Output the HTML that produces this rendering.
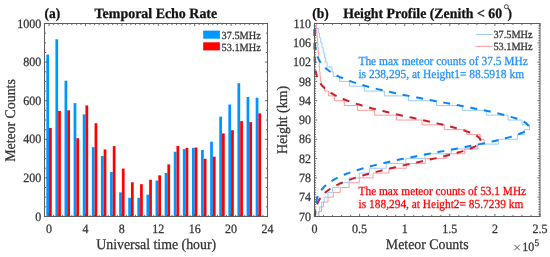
<!DOCTYPE html><html><head><meta charset="utf-8"><style>html,body{margin:0;padding:0;background:#fff;overflow:hidden;}svg{display:block;filter:blur(0.22px);} text{text-rendering:geometricPrecision;}</style></head><body>
<svg width="550" height="257" viewBox="0 0 550 257" font-family="Liberation Serif, serif">
<rect width="550" height="257" fill="#fff"/>
<rect x="46.32" y="54.60" width="2.73" height="161.90" fill="#0096ff"/>
<rect x="49.05" y="127.90" width="2.73" height="88.60" fill="#ff0000"/>
<rect x="55.42" y="39.30" width="2.73" height="177.20" fill="#0096ff"/>
<rect x="58.15" y="110.90" width="2.73" height="105.60" fill="#ff0000"/>
<rect x="64.53" y="80.70" width="2.73" height="135.80" fill="#0096ff"/>
<rect x="67.26" y="110.30" width="2.73" height="106.20" fill="#ff0000"/>
<rect x="73.63" y="103.10" width="2.73" height="113.40" fill="#0096ff"/>
<rect x="76.36" y="138.20" width="2.73" height="78.30" fill="#ff0000"/>
<rect x="82.73" y="114.40" width="2.73" height="102.10" fill="#0096ff"/>
<rect x="85.46" y="105.40" width="2.73" height="111.10" fill="#ff0000"/>
<rect x="91.83" y="147.10" width="2.73" height="69.40" fill="#0096ff"/>
<rect x="94.56" y="123.20" width="2.73" height="93.30" fill="#ff0000"/>
<rect x="100.93" y="156.00" width="2.73" height="60.50" fill="#0096ff"/>
<rect x="103.66" y="149.40" width="2.73" height="67.10" fill="#ff0000"/>
<rect x="110.04" y="172.00" width="2.73" height="44.50" fill="#0096ff"/>
<rect x="112.77" y="146.10" width="2.73" height="70.40" fill="#ff0000"/>
<rect x="119.14" y="192.40" width="2.73" height="24.10" fill="#0096ff"/>
<rect x="121.87" y="168.60" width="2.73" height="47.90" fill="#ff0000"/>
<rect x="128.24" y="197.80" width="2.73" height="18.70" fill="#0096ff"/>
<rect x="130.97" y="182.30" width="2.73" height="34.20" fill="#ff0000"/>
<rect x="137.34" y="197.80" width="2.73" height="18.70" fill="#0096ff"/>
<rect x="140.07" y="184.20" width="2.73" height="32.30" fill="#ff0000"/>
<rect x="146.44" y="194.70" width="2.73" height="21.80" fill="#0096ff"/>
<rect x="149.17" y="179.80" width="2.73" height="36.70" fill="#ff0000"/>
<rect x="155.55" y="180.50" width="2.73" height="36.00" fill="#0096ff"/>
<rect x="158.28" y="175.30" width="2.73" height="41.20" fill="#ff0000"/>
<rect x="164.65" y="173.00" width="2.73" height="43.50" fill="#0096ff"/>
<rect x="167.38" y="164.40" width="2.73" height="52.10" fill="#ff0000"/>
<rect x="173.75" y="151.80" width="2.73" height="64.70" fill="#0096ff"/>
<rect x="176.48" y="146.00" width="2.73" height="70.50" fill="#ff0000"/>
<rect x="182.85" y="149.10" width="2.73" height="67.40" fill="#0096ff"/>
<rect x="185.58" y="147.90" width="2.73" height="68.60" fill="#ff0000"/>
<rect x="191.95" y="147.90" width="2.73" height="68.60" fill="#0096ff"/>
<rect x="194.68" y="147.50" width="2.73" height="69.00" fill="#ff0000"/>
<rect x="201.06" y="150.00" width="2.73" height="66.50" fill="#0096ff"/>
<rect x="203.79" y="158.80" width="2.73" height="57.70" fill="#ff0000"/>
<rect x="210.16" y="141.70" width="2.73" height="74.80" fill="#0096ff"/>
<rect x="212.89" y="156.70" width="2.73" height="59.80" fill="#ff0000"/>
<rect x="219.26" y="116.60" width="2.73" height="99.90" fill="#0096ff"/>
<rect x="221.99" y="133.40" width="2.73" height="83.10" fill="#ff0000"/>
<rect x="228.36" y="104.50" width="2.73" height="112.00" fill="#0096ff"/>
<rect x="231.09" y="130.20" width="2.73" height="86.30" fill="#ff0000"/>
<rect x="237.46" y="83.20" width="2.73" height="133.30" fill="#0096ff"/>
<rect x="240.19" y="121.10" width="2.73" height="95.40" fill="#ff0000"/>
<rect x="246.57" y="97.00" width="2.73" height="119.50" fill="#0096ff"/>
<rect x="249.30" y="122.10" width="2.73" height="94.40" fill="#ff0000"/>
<rect x="255.67" y="97.70" width="2.73" height="118.80" fill="#0096ff"/>
<rect x="258.40" y="113.40" width="2.73" height="103.10" fill="#ff0000"/>
<path d="M49.05 216.5v-2.6M49.05 23.5v2.6M53.60 216.5v-1.6M53.60 23.5v1.6M58.15 216.5v-1.6M58.15 23.5v1.6M62.70 216.5v-1.6M62.70 23.5v1.6M67.26 216.5v-1.6M67.26 23.5v1.6M71.81 216.5v-1.6M71.81 23.5v1.6M76.36 216.5v-1.6M76.36 23.5v1.6M80.91 216.5v-1.6M80.91 23.5v1.6M85.46 216.5v-2.6M85.46 23.5v2.6M90.01 216.5v-1.6M90.01 23.5v1.6M94.56 216.5v-1.6M94.56 23.5v1.6M99.11 216.5v-1.6M99.11 23.5v1.6M103.66 216.5v-1.6M103.66 23.5v1.6M108.21 216.5v-1.6M108.21 23.5v1.6M112.77 216.5v-1.6M112.77 23.5v1.6M117.32 216.5v-1.6M117.32 23.5v1.6M121.87 216.5v-2.6M121.87 23.5v2.6M126.42 216.5v-1.6M126.42 23.5v1.6M130.97 216.5v-1.6M130.97 23.5v1.6M135.52 216.5v-1.6M135.52 23.5v1.6M140.07 216.5v-1.6M140.07 23.5v1.6M144.62 216.5v-1.6M144.62 23.5v1.6M149.17 216.5v-1.6M149.17 23.5v1.6M153.72 216.5v-1.6M153.72 23.5v1.6M158.28 216.5v-2.6M158.28 23.5v2.6M162.83 216.5v-1.6M162.83 23.5v1.6M167.38 216.5v-1.6M167.38 23.5v1.6M171.93 216.5v-1.6M171.93 23.5v1.6M176.48 216.5v-1.6M176.48 23.5v1.6M181.03 216.5v-1.6M181.03 23.5v1.6M185.58 216.5v-1.6M185.58 23.5v1.6M190.13 216.5v-1.6M190.13 23.5v1.6M194.68 216.5v-2.6M194.68 23.5v2.6M199.23 216.5v-1.6M199.23 23.5v1.6M203.79 216.5v-1.6M203.79 23.5v1.6M208.34 216.5v-1.6M208.34 23.5v1.6M212.89 216.5v-1.6M212.89 23.5v1.6M217.44 216.5v-1.6M217.44 23.5v1.6M221.99 216.5v-1.6M221.99 23.5v1.6M226.54 216.5v-1.6M226.54 23.5v1.6M231.09 216.5v-2.6M231.09 23.5v2.6M235.64 216.5v-1.6M235.64 23.5v1.6M240.19 216.5v-1.6M240.19 23.5v1.6M244.74 216.5v-1.6M244.74 23.5v1.6M249.30 216.5v-1.6M249.30 23.5v1.6M253.85 216.5v-1.6M253.85 23.5v1.6M258.40 216.5v-1.6M258.40 23.5v1.6M262.95 216.5v-1.6M262.95 23.5v1.6M267.50 216.5v-2.6M267.50 23.5v2.6M44.5 216.50h2.6M267.5 216.50h-2.6M44.5 206.85h1.6M267.5 206.85h-1.6M44.5 197.20h1.6M267.5 197.20h-1.6M44.5 187.55h1.6M267.5 187.55h-1.6M44.5 177.90h2.6M267.5 177.90h-2.6M44.5 168.25h1.6M267.5 168.25h-1.6M44.5 158.60h1.6M267.5 158.60h-1.6M44.5 148.95h1.6M267.5 148.95h-1.6M44.5 139.30h2.6M267.5 139.30h-2.6M44.5 129.65h1.6M267.5 129.65h-1.6M44.5 120.00h1.6M267.5 120.00h-1.6M44.5 110.35h1.6M267.5 110.35h-1.6M44.5 100.70h2.6M267.5 100.70h-2.6M44.5 91.05h1.6M267.5 91.05h-1.6M44.5 81.40h1.6M267.5 81.40h-1.6M44.5 71.75h1.6M267.5 71.75h-1.6M44.5 62.10h2.6M267.5 62.10h-2.6M44.5 52.45h1.6M267.5 52.45h-1.6M44.5 42.80h1.6M267.5 42.80h-1.6M44.5 33.15h1.6M267.5 33.15h-1.6M44.5 23.50h2.6M267.5 23.50h-2.6" stroke="#444" stroke-width="0.8" fill="none"/>
<rect x="44.5" y="23.5" width="223.0" height="193.0" fill="none" stroke="#5c5c5c" stroke-width="1"/>
<text transform="matrix(1 0 0 1.06 0 -13.236)" x="41.2" y="220.60" font-size="12" text-anchor="end" fill="#333" stroke="#333" stroke-width="0.25">0</text>
<text transform="matrix(1 0 0 1.06 0 -10.920)" x="41.2" y="182.00" font-size="12" text-anchor="end" fill="#333" stroke="#333" stroke-width="0.25">200</text>
<text transform="matrix(1 0 0 1.06 0 -8.604)" x="41.2" y="143.40" font-size="12" text-anchor="end" fill="#333" stroke="#333" stroke-width="0.25">400</text>
<text transform="matrix(1 0 0 1.06 0 -6.288)" x="41.2" y="104.80" font-size="12" text-anchor="end" fill="#333" stroke="#333" stroke-width="0.25">600</text>
<text transform="matrix(1 0 0 1.06 0 -3.972)" x="41.2" y="66.20" font-size="12" text-anchor="end" fill="#333" stroke="#333" stroke-width="0.25">800</text>
<text transform="matrix(1 0 0 1.06 0 -1.656)" x="41.2" y="27.60" font-size="12" text-anchor="end" fill="#333" stroke="#333" stroke-width="0.25">1000</text>
<text transform="matrix(1 0 0 1.06 0 -13.986)" x="49.05" y="233.1" font-size="12" text-anchor="middle" fill="#333" stroke="#333" stroke-width="0.25">0</text>
<text transform="matrix(1 0 0 1.06 0 -13.986)" x="85.46" y="233.1" font-size="12" text-anchor="middle" fill="#333" stroke="#333" stroke-width="0.25">4</text>
<text transform="matrix(1 0 0 1.06 0 -13.986)" x="121.87" y="233.1" font-size="12" text-anchor="middle" fill="#333" stroke="#333" stroke-width="0.25">8</text>
<text transform="matrix(1 0 0 1.06 0 -13.986)" x="158.28" y="233.1" font-size="12" text-anchor="middle" fill="#333" stroke="#333" stroke-width="0.25">12</text>
<text transform="matrix(1 0 0 1.06 0 -13.986)" x="194.68" y="233.1" font-size="12" text-anchor="middle" fill="#333" stroke="#333" stroke-width="0.25">16</text>
<text transform="matrix(1 0 0 1.06 0 -13.986)" x="231.09" y="233.1" font-size="12" text-anchor="middle" fill="#333" stroke="#333" stroke-width="0.25">20</text>
<text transform="matrix(1 0 0 1.06 0 -13.986)" x="267.50" y="233.1" font-size="12" text-anchor="middle" fill="#333" stroke="#333" stroke-width="0.25">24</text>
<text transform="matrix(1 0 0 1.06 0 -14.916)" x="156.2" y="248.6" font-size="13.85" text-anchor="middle" fill="#333" stroke="#333" stroke-width="0.25">Universal time (hour)</text>
<text transform="translate(14.6 120.5) rotate(-90) scale(1 1.06)" font-size="13.85" text-anchor="middle" fill="#333" stroke="#333" stroke-width="0.25">Meteor Counts</text>
<text transform="matrix(1 0 0 1.06 0 -1.074)" x="44.6" y="17.9" font-size="13.5" font-weight="bold" fill="#111" stroke="#111" stroke-width="0.25">(a)</text>
<text transform="matrix(1 0 0 1.06 0 -1.074)" x="94.6" y="17.9" font-size="13.5" font-weight="bold" fill="#111" stroke="#111" stroke-width="0.25" textLength="122.6" lengthAdjust="spacingAndGlyphs">Temporal Echo Rate</text>
<rect x="203.2" y="30.6" width="16.7" height="8.1" fill="#0096ff"/>
<rect x="203.2" y="42.3" width="16.7" height="8.1" fill="#ff0000"/>
<text transform="matrix(1 0 0 1.06 0 -2.334)" x="221.6" y="38.9" font-size="10.3" fill="#333" stroke="#333" stroke-width="0.25">37.5MHz</text>
<text transform="matrix(1 0 0 1.06 0 -3.036)" x="221.6" y="50.6" font-size="10.3" fill="#333" stroke="#333" stroke-width="0.25">53.1MHz</text>
<path d="M315.80 23.50 L316.30 23.50 L316.30 28.32 L316.70 28.32 L316.70 33.15 L317.00 33.15 L317.00 37.98 L317.40 37.98 L317.40 42.80 L317.80 42.80 L317.80 47.62 L318.20 47.62 L318.20 52.45 L318.60 52.45 L318.60 57.27 L318.90 57.27 L318.90 62.10 L319.30 62.10 L319.30 66.92 L319.60 66.92 L319.60 71.75 L320.00 71.75 L320.00 76.58 L320.40 76.58 L320.40 81.40 L321.50 81.40 L321.50 86.22 L324.50 86.22 L324.50 91.05 L328.60 91.05 L328.60 95.88 L334.40 95.88 L334.40 100.70 L344.30 100.70 L344.30 105.53 L357.50 105.53 L357.50 110.35 L374.60 110.35 L374.60 115.17 L396.40 115.17 L396.40 120.00 L422.00 120.00 L422.00 124.83 L444.30 124.83 L444.30 129.65 L466.70 129.65 L466.70 134.47 L480.20 134.47 L480.20 139.30 L484.10 139.30 L484.10 144.12 L477.90 144.12 L477.90 148.95 L464.70 148.95 L464.70 153.78 L445.90 153.78 L445.90 158.60 L425.30 158.60 L425.30 163.43 L406.40 163.43 L406.40 168.25 L388.90 168.25 L388.90 173.07 L373.10 173.07 L373.10 177.90 L359.30 177.90 L359.30 182.72 L349.10 182.72 L349.10 187.55 L340.20 187.55 L340.20 192.38 L333.30 192.38 L333.30 197.20 L328.00 197.20 L328.00 202.03 L323.50 202.03 L323.50 206.85 L321.60 206.85 L321.60 211.68 L319.00 211.68 L319.00 216.50" stroke="#ff8080" stroke-width="0.8" fill="none"/>
<path d="M314.30 23.50 L314.30 23.50 L314.30 28.32 L318.40 28.32 L318.40 33.15 L319.60 33.15 L319.60 37.98 L320.80 37.98 L320.80 42.80 L322.00 42.80 L322.00 47.62 L323.20 47.62 L323.20 52.45 L324.40 52.45 L324.40 57.27 L325.60 57.27 L325.60 62.10 L327.00 62.10 L327.00 66.92 L332.00 66.92 L332.00 71.75 L333.30 71.75 L333.30 76.58 L339.50 76.58 L339.50 81.40 L349.50 81.40 L349.50 86.22 L364.30 86.22 L364.30 91.05 L384.40 91.05 L384.40 95.88 L408.50 95.88 L408.50 100.70 L436.60 100.70 L436.60 105.53 L462.40 105.53 L462.40 110.35 L486.30 110.35 L486.30 115.17 L508.00 115.17 L508.00 120.00 L522.00 120.00 L522.00 124.83 L529.50 124.83 L529.50 129.65 L524.40 129.65 L524.40 134.47 L517.40 134.47 L517.40 139.30 L498.70 139.30 L498.70 144.12 L477.10 144.12 L477.10 148.95 L451.20 148.95 L451.20 153.78 L425.00 153.78 L425.00 158.60 L405.80 158.60 L405.80 163.43 L386.30 163.43 L386.30 168.25 L369.60 168.25 L369.60 173.07 L359.30 173.07 L359.30 177.90 L349.10 177.90 L349.10 182.72 L338.90 182.72 L338.90 187.55 L332.50 187.55 L332.50 192.38 L328.00 192.38 L328.00 197.20 L324.20 197.20 L324.20 202.03 L321.60 202.03 L321.60 206.85 L319.70 206.85 L319.70 211.68 L318.20 211.68 L318.20 216.50" stroke="#80c0ff" stroke-width="0.8" fill="none"/>
<path d="M314.52 23.50 L314.52 23.74 L314.52 23.98 L314.53 24.22 L314.53 24.46 L314.53 24.71 L314.53 24.95 L314.53 25.19 L314.53 25.43 L314.53 25.67 L314.53 25.91 L314.54 26.15 L314.54 26.39 L314.54 26.64 L314.54 26.88 L314.54 27.12 L314.54 27.36 L314.55 27.60 L314.55 27.84 L314.55 28.08 L314.55 28.32 L314.55 28.57 L314.56 28.81 L314.56 29.05 L314.56 29.29 L314.56 29.53 L314.57 29.77 L314.57 30.01 L314.57 30.25 L314.57 30.50 L314.58 30.74 L314.58 30.98 L314.58 31.22 L314.59 31.46 L314.59 31.70 L314.59 31.94 L314.60 32.18 L314.60 32.43 L314.61 32.67 L314.61 32.91 L314.61 33.15 L314.62 33.39 L314.62 33.63 L314.63 33.87 L314.63 34.11 L314.64 34.36 L314.64 34.60 L314.65 34.84 L314.66 35.08 L314.66 35.32 L314.67 35.56 L314.67 35.80 L314.68 36.04 L314.69 36.29 L314.70 36.53 L314.70 36.77 L314.71 37.01 L314.72 37.25 L314.73 37.49 L314.73 37.73 L314.74 37.97 L314.75 38.22 L314.76 38.46 L314.77 38.70 L314.78 38.94 L314.79 39.18 L314.80 39.42 L314.81 39.66 L314.83 39.90 L314.84 40.15 L314.85 40.39 L314.86 40.63 L314.88 40.87 L314.89 41.11 L314.90 41.35 L314.92 41.59 L314.93 41.83 L314.95 42.08 L314.97 42.32 L314.98 42.56 L315.00 42.80 L315.02 43.04 L315.03 43.28 L315.05 43.52 L315.07 43.76 L315.09 44.01 L315.11 44.25 L315.14 44.49 L315.16 44.73 L315.18 44.97 L315.20 45.21 L315.23 45.45 L315.25 45.69 L315.28 45.94 L315.30 46.18 L315.33 46.42 L315.36 46.66 L315.39 46.90 L315.42 47.14 L315.45 47.38 L315.48 47.62 L315.51 47.87 L315.55 48.11 L315.58 48.35 L315.62 48.59 L315.65 48.83 L315.69 49.07 L315.73 49.31 L315.77 49.55 L315.81 49.80 L315.86 50.04 L315.90 50.28 L315.94 50.52 L315.99 50.76 L316.04 51.00 L316.09 51.24 L316.14 51.48 L316.19 51.73 L316.24 51.97 L316.30 52.21 L316.35 52.45 L316.41 52.69 L316.47 52.93 L316.53 53.17 L316.60 53.41 L316.66 53.66 L316.73 53.90 L316.80 54.14 L316.87 54.38 L316.94 54.62 L317.01 54.86 L317.09 55.10 L317.16 55.34 L317.24 55.59 L317.33 55.83 L317.41 56.07 L317.50 56.31 L317.59 56.55 L317.68 56.79 L317.77 57.03 L317.87 57.27 L317.96 57.52 L318.07 57.76 L318.17 58.00 L318.27 58.24 L318.38 58.48 L318.49 58.72 L318.61 58.96 L318.73 59.20 L318.85 59.45 L318.97 59.69 L319.09 59.93 L319.22 60.17 L319.35 60.41 L319.49 60.65 L319.63 60.89 L319.77 61.13 L319.92 61.38 L320.06 61.62 L320.22 61.86 L320.37 62.10 L320.53 62.34 L320.69 62.58 L320.86 62.82 L321.03 63.06 L321.21 63.31 L321.38 63.55 L321.57 63.79 L321.75 64.03 L321.94 64.27 L322.14 64.51 L322.34 64.75 L322.54 64.99 L322.75 65.24 L322.96 65.48 L323.18 65.72 L323.40 65.96 L323.63 66.20 L323.86 66.44 L324.10 66.68 L324.34 66.92 L324.59 67.17 L324.84 67.41 L325.10 67.65 L325.36 67.89 L325.63 68.13 L325.90 68.37 L326.18 68.61 L326.46 68.85 L326.75 69.10 L327.05 69.34 L327.35 69.58 L327.66 69.82 L327.97 70.06 L328.29 70.30 L328.62 70.54 L328.95 70.78 L329.29 71.03 L329.63 71.27 L329.99 71.51 L330.34 71.75 L330.71 71.99 L331.08 72.23 L331.46 72.47 L331.84 72.71 L332.24 72.96 L332.64 73.20 L333.04 73.44 L333.46 73.68 L333.88 73.92 L334.31 74.16 L334.74 74.40 L335.19 74.64 L335.64 74.89 L336.09 75.13 L336.56 75.37 L337.04 75.61 L337.52 75.85 L338.01 76.09 L338.51 76.33 L339.01 76.57 L339.53 76.82 L340.05 77.06 L340.58 77.30 L341.12 77.54 L341.67 77.78 L342.22 78.02 L342.79 78.26 L343.36 78.50 L343.94 78.75 L344.53 78.99 L345.13 79.23 L345.74 79.47 L346.36 79.71 L346.99 79.95 L347.62 80.19 L348.26 80.43 L348.92 80.68 L349.58 80.92 L350.25 81.16 L350.93 81.40 L351.62 81.64 L352.32 81.88 L353.03 82.12 L353.75 82.36 L354.48 82.61 L355.21 82.85 L355.96 83.09 L356.72 83.33 L357.48 83.57 L358.26 83.81 L359.04 84.05 L359.83 84.29 L360.64 84.54 L361.45 84.78 L362.27 85.02 L363.11 85.26 L363.95 85.50 L364.80 85.74 L365.66 85.98 L366.53 86.22 L367.41 86.47 L368.30 86.71 L369.20 86.95 L370.10 87.19 L371.02 87.43 L371.95 87.67 L372.89 87.91 L373.83 88.15 L374.79 88.40 L375.75 88.64 L376.72 88.88 L377.71 89.12 L378.70 89.36 L379.70 89.60 L380.71 89.84 L381.73 90.08 L382.75 90.33 L383.79 90.57 L384.83 90.81 L385.89 91.05 L386.95 91.29 L388.02 91.53 L389.10 91.77 L390.19 92.01 L391.28 92.26 L392.38 92.50 L393.50 92.74 L394.62 92.98 L395.74 93.22 L396.88 93.46 L398.02 93.70 L399.17 93.94 L400.32 94.19 L401.49 94.43 L402.66 94.67 L403.84 94.91 L405.02 95.15 L406.21 95.39 L407.41 95.63 L408.61 95.87 L409.82 96.12 L411.03 96.36 L412.25 96.60 L413.48 96.84 L414.71 97.08 L415.95 97.32 L417.19 97.56 L418.44 97.80 L419.69 98.05 L420.94 98.29 L422.20 98.53 L423.47 98.77 L424.74 99.01 L426.01 99.25 L427.28 99.49 L428.56 99.73 L429.84 99.98 L431.12 100.22 L432.41 100.46 L433.70 100.70 L434.99 100.94 L436.28 101.18 L437.57 101.42 L438.87 101.66 L440.17 101.91 L441.46 102.15 L442.76 102.39 L444.06 102.63 L445.35 102.87 L446.65 103.11 L447.95 103.35 L449.25 103.59 L450.54 103.84 L451.83 104.08 L453.13 104.32 L454.42 104.56 L455.71 104.80 L456.99 105.04 L458.28 105.28 L459.56 105.52 L460.83 105.77 L462.11 106.01 L463.38 106.25 L464.64 106.49 L465.90 106.73 L467.16 106.97 L468.41 107.21 L469.66 107.45 L470.90 107.70 L472.14 107.94 L473.36 108.18 L474.59 108.42 L475.80 108.66 L477.01 108.90 L478.21 109.14 L479.41 109.38 L480.59 109.63 L481.77 109.87 L482.94 110.11 L484.10 110.35 L485.25 110.59 L486.39 110.83 L487.53 111.07 L488.65 111.31 L489.76 111.56 L490.86 111.80 L491.95 112.04 L493.03 112.28 L494.10 112.52 L495.16 112.76 L496.20 113.00 L497.24 113.24 L498.26 113.49 L499.26 113.73 L500.26 113.97 L501.24 114.21 L502.21 114.45 L503.16 114.69 L504.10 114.93 L505.02 115.17 L505.93 115.42 L506.83 115.66 L507.71 115.90 L508.57 116.14 L509.42 116.38 L510.26 116.62 L511.07 116.86 L511.88 117.10 L512.66 117.35 L513.43 117.59 L514.18 117.83 L514.91 118.07 L515.63 118.31 L516.33 118.55 L517.01 118.79 L517.67 119.03 L518.31 119.28 L518.94 119.52 L519.55 119.76 L520.13 120.00 L520.70 120.24 L521.26 120.48 L521.79 120.72 L522.30 120.96 L522.79 121.21 L523.26 121.45 L523.72 121.69 L524.15 121.93 L524.56 122.17 L524.95 122.41 L525.33 122.65 L525.68 122.89 L526.01 123.14 L526.32 123.38 L526.61 123.62 L526.88 123.86 L527.13 124.10 L527.35 124.34 L527.56 124.58 L527.74 124.82 L527.91 125.07 L528.05 125.31 L528.17 125.55 L528.27 125.79 L528.35 126.03 L528.40 126.27 L528.44 126.51 L528.45 126.75 L528.45 127.00 L528.42 127.24 L528.37 127.48 L528.30 127.72 L528.20 127.96 L528.09 128.20 L527.96 128.44 L527.80 128.68 L527.62 128.93 L527.42 129.17 L527.20 129.41 L526.96 129.65 L526.70 129.89 L526.42 130.13 L526.11 130.37 L525.79 130.61 L525.44 130.86 L525.08 131.10 L524.69 131.34 L524.29 131.58 L523.86 131.82 L523.41 132.06 L522.95 132.30 L522.46 132.54 L521.96 132.79 L521.43 133.03 L520.89 133.27 L520.32 133.51 L519.74 133.75 L519.14 133.99 L518.52 134.23 L517.88 134.47 L517.23 134.72 L516.55 134.96 L515.86 135.20 L515.15 135.44 L514.42 135.68 L513.68 135.92 L512.91 136.16 L512.13 136.40 L511.34 136.65 L510.53 136.89 L509.70 137.13 L508.85 137.37 L507.99 137.61 L507.12 137.85 L506.23 138.09 L505.32 138.33 L504.40 138.58 L503.47 138.82 L502.52 139.06 L501.56 139.30 L500.58 139.54 L499.59 139.78 L498.59 140.02 L497.57 140.26 L496.54 140.51 L495.50 140.75 L494.45 140.99 L493.39 141.23 L492.31 141.47 L491.22 141.71 L490.12 141.95 L489.02 142.19 L487.90 142.44 L486.77 142.68 L485.63 142.92 L484.48 143.16 L483.32 143.40 L482.16 143.64 L480.98 143.88 L479.80 144.12 L478.61 144.37 L477.41 144.61 L476.20 144.85 L474.99 145.09 L473.77 145.33 L472.54 145.57 L471.31 145.81 L470.07 146.05 L468.82 146.30 L467.57 146.54 L466.32 146.78 L465.06 147.02 L463.79 147.26 L462.52 147.50 L461.25 147.74 L459.98 147.98 L458.70 148.23 L457.41 148.47 L456.13 148.71 L454.84 148.95 L453.55 149.19 L452.26 149.43 L450.97 149.67 L449.67 149.91 L448.37 150.16 L447.08 150.40 L445.78 150.64 L444.48 150.88 L443.19 151.12 L441.89 151.36 L440.59 151.60 L439.29 151.84 L438.00 152.09 L436.71 152.33 L435.41 152.57 L434.12 152.81 L432.83 153.05 L431.55 153.29 L430.26 153.53 L428.98 153.77 L427.70 154.02 L426.43 154.26 L425.15 154.50 L423.88 154.74 L422.62 154.98 L421.36 155.22 L420.10 155.46 L418.85 155.70 L417.60 155.95 L416.36 156.19 L415.12 156.43 L413.88 156.67 L412.66 156.91 L411.43 157.15 L410.22 157.39 L409.01 157.63 L407.80 157.88 L406.60 158.12 L405.41 158.36 L404.22 158.60 L403.04 158.84 L401.87 159.08 L400.70 159.32 L399.55 159.56 L398.39 159.81 L397.25 160.05 L396.11 160.29 L394.98 160.53 L393.86 160.77 L392.75 161.01 L391.64 161.25 L390.54 161.49 L389.46 161.74 L388.37 161.98 L387.30 162.22 L386.24 162.46 L385.18 162.70 L384.13 162.94 L383.09 163.18 L382.06 163.42 L381.04 163.67 L380.03 163.91 L379.03 164.15 L378.03 164.39 L377.05 164.63 L376.07 164.87 L375.10 165.11 L374.14 165.35 L373.19 165.60 L372.26 165.84 L371.33 166.08 L370.40 166.32 L369.49 166.56 L368.59 166.80 L367.70 167.04 L366.82 167.28 L365.94 167.53 L365.08 167.77 L364.23 168.01 L363.38 168.25 L362.55 168.49 L361.72 168.73 L360.90 168.97 L360.10 169.21 L359.30 169.46 L358.51 169.70 L357.73 169.94 L356.97 170.18 L356.21 170.42 L355.46 170.66 L354.72 170.90 L353.99 171.14 L353.27 171.39 L352.55 171.63 L351.85 171.87 L351.16 172.11 L350.47 172.35 L349.80 172.59 L349.13 172.83 L348.48 173.07 L347.83 173.32 L347.19 173.56 L346.56 173.80 L345.94 174.04 L345.33 174.28 L344.73 174.52 L344.14 174.76 L343.55 175.00 L342.97 175.25 L342.41 175.49 L341.85 175.73 L341.30 175.97 L340.76 176.21 L340.22 176.45 L339.70 176.69 L339.18 176.93 L338.67 177.18 L338.17 177.42 L337.68 177.66 L337.19 177.90 L336.72 178.14 L336.25 178.38 L335.79 178.62 L335.33 178.86 L334.89 179.11 L334.45 179.35 L334.02 179.59 L333.59 179.83 L333.18 180.07 L332.77 180.31 L332.37 180.55 L331.97 180.79 L331.59 181.04 L331.20 181.28 L330.83 181.52 L330.46 181.76 L330.10 182.00 L329.75 182.24 L329.40 182.48 L329.06 182.72 L328.73 182.97 L328.40 183.21 L328.08 183.45 L327.76 183.69 L327.45 183.93 L327.15 184.17 L326.85 184.41 L326.56 184.65 L326.27 184.90 L325.99 185.14 L325.72 185.38 L325.45 185.62 L325.18 185.86 L324.92 186.10 L324.67 186.34 L324.42 186.58 L324.18 186.83 L323.94 187.07 L323.71 187.31 L323.48 187.55 L323.25 187.79 L323.03 188.03 L322.82 188.27 L322.61 188.51 L322.41 188.76 L322.20 189.00 L322.01 189.24 L321.82 189.48 L321.63 189.72 L321.44 189.96 L321.26 190.20 L321.09 190.44 L320.92 190.69 L320.75 190.93 L320.58 191.17 L320.42 191.41 L320.27 191.65 L320.11 191.89 L319.96 192.13 L319.82 192.37 L319.67 192.62 L319.54 192.86 L319.40 193.10 L319.27 193.34 L319.14 193.58 L319.01 193.82 L318.89 194.06 L318.76 194.30 L318.65 194.55 L318.53 194.79 L318.42 195.03 L318.31 195.27 L318.20 195.51 L318.10 195.75 L318.00 195.99 L317.90 196.23 L317.80 196.48 L317.71 196.72 L317.62 196.96 L317.53 197.20 L317.44 197.44 L317.35 197.68 L317.27 197.92 L317.19 198.16 L317.11 198.41 L317.04 198.65 L316.96 198.89 L316.89 199.13 L316.82 199.37 L316.75 199.61 L316.68 199.85 L316.62 200.09 L316.55 200.34 L316.49 200.58 L316.43 200.82 L316.37 201.06 L316.32 201.30 L316.26 201.54 L316.21 201.78 L316.15 202.02 L316.10 202.27 L316.05 202.51 L316.01 202.75 L315.96 202.99 L315.91 203.23 L315.87 203.47 L315.83 203.71 L315.79 203.95 L315.74 204.20 L315.71 204.44 L315.67 204.68 L315.63 204.92 L315.59 205.16 L315.56 205.40 L315.52 205.64 L315.49 205.88 L315.46 206.13 L315.43 206.37 L315.40 206.61 L315.37 206.85 L315.34 207.09 L315.31 207.33 L315.29 207.57 L315.26 207.81 L315.24 208.06 L315.21 208.30 L315.19 208.54 L315.16 208.78 L315.14 209.02 L315.12 209.26 L315.10 209.50 L315.08 209.74 L315.06 209.99 L315.04 210.23 L315.02 210.47 L315.00 210.71 L314.99 210.95 L314.97 211.19 L314.95 211.43 L314.94 211.67 L314.92 211.92 L314.91 212.16 L314.89 212.40 L314.88 212.64 L314.87 212.88 L314.85 213.12 L314.84 213.36 L314.83 213.60 L314.82 213.85 L314.81 214.09 L314.80 214.33 L314.79 214.57 L314.78 214.81 L314.77 215.05 L314.76 215.29 L314.75 215.53 L314.74 215.78 L314.73 216.02 L314.72 216.26 L314.71 216.50" stroke="#0a84f5" stroke-width="2" fill="none" stroke-dasharray="7 6.79" stroke-dashoffset="8.15"/>
<path d="M314.50 23.50 L314.50 23.74 L314.50 23.98 L314.50 24.22 L314.50 24.46 L314.50 24.71 L314.50 24.95 L314.50 25.19 L314.50 25.43 L314.50 25.67 L314.50 25.91 L314.50 26.15 L314.50 26.39 L314.50 26.64 L314.50 26.88 L314.50 27.12 L314.50 27.36 L314.50 27.60 L314.50 27.84 L314.50 28.08 L314.50 28.32 L314.50 28.57 L314.50 28.81 L314.50 29.05 L314.50 29.29 L314.50 29.53 L314.50 29.77 L314.50 30.01 L314.50 30.25 L314.50 30.50 L314.50 30.74 L314.50 30.98 L314.50 31.22 L314.50 31.46 L314.50 31.70 L314.50 31.94 L314.50 32.18 L314.50 32.43 L314.50 32.67 L314.50 32.91 L314.50 33.15 L314.50 33.39 L314.50 33.63 L314.50 33.87 L314.50 34.11 L314.50 34.36 L314.50 34.60 L314.50 34.84 L314.50 35.08 L314.50 35.32 L314.50 35.56 L314.50 35.80 L314.50 36.04 L314.50 36.29 L314.50 36.53 L314.50 36.77 L314.50 37.01 L314.50 37.25 L314.50 37.49 L314.50 37.73 L314.50 37.97 L314.50 38.22 L314.50 38.46 L314.50 38.70 L314.50 38.94 L314.50 39.18 L314.51 39.42 L314.51 39.66 L314.51 39.90 L314.51 40.15 L314.51 40.39 L314.51 40.63 L314.51 40.87 L314.51 41.11 L314.51 41.35 L314.51 41.59 L314.51 41.83 L314.51 42.08 L314.51 42.32 L314.51 42.56 L314.51 42.80 L314.51 43.04 L314.51 43.28 L314.51 43.52 L314.51 43.76 L314.51 44.01 L314.51 44.25 L314.51 44.49 L314.51 44.73 L314.52 44.97 L314.52 45.21 L314.52 45.45 L314.52 45.69 L314.52 45.94 L314.52 46.18 L314.52 46.42 L314.52 46.66 L314.52 46.90 L314.52 47.14 L314.52 47.38 L314.53 47.62 L314.53 47.87 L314.53 48.11 L314.53 48.35 L314.53 48.59 L314.53 48.83 L314.53 49.07 L314.54 49.31 L314.54 49.55 L314.54 49.80 L314.54 50.04 L314.54 50.28 L314.54 50.52 L314.55 50.76 L314.55 51.00 L314.55 51.24 L314.55 51.48 L314.55 51.73 L314.56 51.97 L314.56 52.21 L314.56 52.45 L314.56 52.69 L314.57 52.93 L314.57 53.17 L314.57 53.41 L314.58 53.66 L314.58 53.90 L314.58 54.14 L314.59 54.38 L314.59 54.62 L314.59 54.86 L314.60 55.10 L314.60 55.34 L314.61 55.59 L314.61 55.83 L314.62 56.07 L314.62 56.31 L314.63 56.55 L314.63 56.79 L314.64 57.03 L314.64 57.27 L314.65 57.52 L314.66 57.76 L314.66 58.00 L314.67 58.24 L314.68 58.48 L314.68 58.72 L314.69 58.96 L314.70 59.20 L314.71 59.45 L314.71 59.69 L314.72 59.93 L314.73 60.17 L314.74 60.41 L314.75 60.65 L314.76 60.89 L314.77 61.13 L314.78 61.38 L314.79 61.62 L314.81 61.86 L314.82 62.10 L314.83 62.34 L314.84 62.58 L314.86 62.82 L314.87 63.06 L314.88 63.31 L314.90 63.55 L314.91 63.79 L314.93 64.03 L314.95 64.27 L314.96 64.51 L314.98 64.75 L315.00 64.99 L315.02 65.24 L315.04 65.48 L315.06 65.72 L315.08 65.96 L315.10 66.20 L315.12 66.44 L315.14 66.68 L315.17 66.92 L315.19 67.17 L315.22 67.41 L315.24 67.65 L315.27 67.89 L315.30 68.13 L315.33 68.37 L315.36 68.61 L315.39 68.85 L315.42 69.10 L315.45 69.34 L315.49 69.58 L315.52 69.82 L315.56 70.06 L315.60 70.30 L315.63 70.54 L315.67 70.78 L315.71 71.03 L315.76 71.27 L315.80 71.51 L315.84 71.75 L315.89 71.99 L315.94 72.23 L315.99 72.47 L316.04 72.71 L316.09 72.96 L316.14 73.20 L316.20 73.44 L316.25 73.68 L316.31 73.92 L316.37 74.16 L316.43 74.40 L316.50 74.64 L316.56 74.89 L316.63 75.13 L316.70 75.37 L316.77 75.61 L316.85 75.85 L316.92 76.09 L317.00 76.33 L317.08 76.57 L317.16 76.82 L317.24 77.06 L317.33 77.30 L317.42 77.54 L317.51 77.78 L317.61 78.02 L317.70 78.26 L317.80 78.50 L317.90 78.75 L318.01 78.99 L318.11 79.23 L318.22 79.47 L318.34 79.71 L318.45 79.95 L318.57 80.19 L318.69 80.43 L318.82 80.68 L318.95 80.92 L319.08 81.16 L319.22 81.40 L319.35 81.64 L319.50 81.88 L319.64 82.12 L319.79 82.36 L319.94 82.61 L320.10 82.85 L320.26 83.09 L320.42 83.33 L320.59 83.57 L320.76 83.81 L320.94 84.05 L321.12 84.29 L321.31 84.54 L321.50 84.78 L321.69 85.02 L321.89 85.26 L322.09 85.50 L322.30 85.74 L322.51 85.98 L322.73 86.22 L322.95 86.47 L323.17 86.71 L323.41 86.95 L323.64 87.19 L323.88 87.43 L324.13 87.67 L324.38 87.91 L324.64 88.15 L324.91 88.40 L325.17 88.64 L325.45 88.88 L325.73 89.12 L326.02 89.36 L326.31 89.60 L326.61 89.84 L326.91 90.08 L327.22 90.33 L327.54 90.57 L327.86 90.81 L328.19 91.05 L328.52 91.29 L328.87 91.53 L329.22 91.77 L329.57 92.01 L329.93 92.26 L330.30 92.50 L330.68 92.74 L331.06 92.98 L331.45 93.22 L331.85 93.46 L332.25 93.70 L332.66 93.94 L333.08 94.19 L333.51 94.43 L333.94 94.67 L334.38 94.91 L334.83 95.15 L335.29 95.39 L335.76 95.63 L336.23 95.87 L336.71 96.12 L337.20 96.36 L337.69 96.60 L338.20 96.84 L338.71 97.08 L339.23 97.32 L339.76 97.56 L340.29 97.80 L340.84 98.05 L341.39 98.29 L341.95 98.53 L342.52 98.77 L343.10 99.01 L343.69 99.25 L344.29 99.49 L344.89 99.73 L345.50 99.98 L346.13 100.22 L346.76 100.46 L347.40 100.70 L348.04 100.94 L348.70 101.18 L349.36 101.42 L350.04 101.66 L350.72 101.91 L351.41 102.15 L352.11 102.39 L352.82 102.63 L353.54 102.87 L354.26 103.11 L355.00 103.35 L355.74 103.59 L356.50 103.84 L357.26 104.08 L358.03 104.32 L358.80 104.56 L359.59 104.80 L360.39 105.04 L361.19 105.28 L362.00 105.52 L362.82 105.77 L363.65 106.01 L364.49 106.25 L365.34 106.49 L366.19 106.73 L367.05 106.97 L367.92 107.21 L368.80 107.45 L369.69 107.70 L370.58 107.94 L371.48 108.18 L372.39 108.42 L373.31 108.66 L374.24 108.90 L375.17 109.14 L376.11 109.38 L377.05 109.63 L378.01 109.87 L378.97 110.11 L379.93 110.35 L380.91 110.59 L381.89 110.83 L382.87 111.07 L383.87 111.31 L384.87 111.56 L385.87 111.80 L386.88 112.04 L387.90 112.28 L388.92 112.52 L389.95 112.76 L390.98 113.00 L392.02 113.24 L393.06 113.49 L394.11 113.73 L395.16 113.97 L396.21 114.21 L397.27 114.45 L398.33 114.69 L399.40 114.93 L400.47 115.17 L401.54 115.42 L402.62 115.66 L403.70 115.90 L404.78 116.14 L405.87 116.38 L406.95 116.62 L408.04 116.86 L409.13 117.10 L410.22 117.35 L411.31 117.59 L412.41 117.83 L413.50 118.07 L414.59 118.31 L415.69 118.55 L416.78 118.79 L417.88 119.03 L418.97 119.28 L420.06 119.52 L421.15 119.76 L422.24 120.00 L423.33 120.24 L424.41 120.48 L425.50 120.72 L426.58 120.96 L427.66 121.21 L428.73 121.45 L429.80 121.69 L430.87 121.93 L431.93 122.17 L432.99 122.41 L434.05 122.65 L435.10 122.89 L436.14 123.14 L437.18 123.38 L438.22 123.62 L439.25 123.86 L440.27 124.10 L441.28 124.34 L442.29 124.58 L443.29 124.82 L444.28 125.07 L445.27 125.31 L446.25 125.55 L447.21 125.79 L448.18 126.03 L449.13 126.27 L450.07 126.51 L451.00 126.75 L451.92 127.00 L452.84 127.24 L453.74 127.48 L454.63 127.72 L455.51 127.96 L456.38 128.20 L457.24 128.44 L458.08 128.68 L458.92 128.93 L459.74 129.17 L460.55 129.41 L461.35 129.65 L462.13 129.89 L462.90 130.13 L463.65 130.37 L464.40 130.61 L465.13 130.86 L465.84 131.10 L466.54 131.34 L467.22 131.58 L467.89 131.82 L468.55 132.06 L469.19 132.30 L469.81 132.54 L470.42 132.79 L471.01 133.03 L471.58 133.27 L472.14 133.51 L472.68 133.75 L473.21 133.99 L473.71 134.23 L474.20 134.47 L474.68 134.72 L475.13 134.96 L475.57 135.20 L475.99 135.44 L476.39 135.68 L476.77 135.92 L477.14 136.16 L477.48 136.40 L477.81 136.65 L478.12 136.89 L478.41 137.13 L478.68 137.37 L478.94 137.61 L479.17 137.85 L479.39 138.09 L479.58 138.33 L479.76 138.58 L479.91 138.82 L480.05 139.06 L480.17 139.30 L480.27 139.54 L480.35 139.78 L480.41 140.02 L480.45 140.26 L480.47 140.51 L480.47 140.75 L480.45 140.99 L480.41 141.23 L480.35 141.47 L480.27 141.71 L480.17 141.95 L480.06 142.19 L479.92 142.44 L479.76 142.68 L479.59 142.92 L479.40 143.16 L479.18 143.40 L478.95 143.64 L478.70 143.88 L478.43 144.12 L478.14 144.37 L477.83 144.61 L477.50 144.85 L477.15 145.09 L476.79 145.33 L476.41 145.57 L476.01 145.81 L475.59 146.05 L475.15 146.30 L474.70 146.54 L474.22 146.78 L473.73 147.02 L473.23 147.26 L472.70 147.50 L472.16 147.74 L471.61 147.98 L471.03 148.23 L470.44 148.47 L469.84 148.71 L469.21 148.95 L468.58 149.19 L467.92 149.43 L467.25 149.67 L466.57 149.91 L465.87 150.16 L465.16 150.40 L464.43 150.64 L463.69 150.88 L462.93 151.12 L462.16 151.36 L461.38 151.60 L460.58 151.84 L459.78 152.09 L458.95 152.33 L458.12 152.57 L457.28 152.81 L456.42 153.05 L455.55 153.29 L454.67 153.53 L453.78 153.77 L452.88 154.02 L451.96 154.26 L451.04 154.50 L450.11 154.74 L449.17 154.98 L448.22 155.22 L447.26 155.46 L446.29 155.70 L445.31 155.95 L444.33 156.19 L443.33 156.43 L442.33 156.67 L441.33 156.91 L440.31 157.15 L439.29 157.39 L438.26 157.63 L437.23 157.88 L436.19 158.12 L435.15 158.36 L434.10 158.60 L433.04 158.84 L431.98 159.08 L430.92 159.32 L429.85 159.56 L428.78 159.81 L427.70 160.05 L426.63 160.29 L425.55 160.53 L424.46 160.77 L423.38 161.01 L422.29 161.25 L421.20 161.49 L420.11 161.74 L419.02 161.98 L417.92 162.22 L416.83 162.46 L415.74 162.70 L414.64 162.94 L413.55 163.18 L412.45 163.42 L411.36 163.67 L410.27 163.91 L409.18 164.15 L408.09 164.39 L407.00 164.63 L405.91 164.87 L404.83 165.11 L403.75 165.35 L402.67 165.60 L401.59 165.84 L400.52 166.08 L399.45 166.32 L398.38 166.56 L397.32 166.80 L396.26 167.04 L395.20 167.28 L394.15 167.53 L393.11 167.77 L392.06 168.01 L391.03 168.25 L389.99 168.49 L388.97 168.73 L387.94 168.97 L386.93 169.21 L385.92 169.46 L384.91 169.70 L383.91 169.94 L382.92 170.18 L381.93 170.42 L380.95 170.66 L379.98 170.90 L379.01 171.14 L378.05 171.39 L377.10 171.63 L376.15 171.87 L375.21 172.11 L374.28 172.35 L373.35 172.59 L372.43 172.83 L371.52 173.07 L370.62 173.32 L369.73 173.56 L368.84 173.80 L367.96 174.04 L367.09 174.28 L366.23 174.52 L365.38 174.76 L364.53 175.00 L363.69 175.25 L362.86 175.49 L362.04 175.73 L361.23 175.97 L360.42 176.21 L359.63 176.45 L358.84 176.69 L358.06 176.93 L357.29 177.18 L356.53 177.42 L355.78 177.66 L355.03 177.90 L354.30 178.14 L353.57 178.38 L352.85 178.62 L352.14 178.86 L351.44 179.11 L350.75 179.35 L350.07 179.59 L349.39 179.83 L348.73 180.07 L348.07 180.31 L347.42 180.55 L346.78 180.79 L346.15 181.04 L345.53 181.28 L344.92 181.52 L344.31 181.76 L343.72 182.00 L343.13 182.24 L342.55 182.48 L341.98 182.72 L341.42 182.97 L340.86 183.21 L340.32 183.45 L339.78 183.69 L339.25 183.93 L338.73 184.17 L338.22 184.41 L337.71 184.65 L337.22 184.90 L336.73 185.14 L336.25 185.38 L335.78 185.62 L335.31 185.86 L334.85 186.10 L334.40 186.34 L333.96 186.58 L333.53 186.83 L333.10 187.07 L332.68 187.31 L332.27 187.55 L331.87 187.79 L331.47 188.03 L331.08 188.27 L330.69 188.51 L330.32 188.76 L329.95 189.00 L329.59 189.24 L329.23 189.48 L328.88 189.72 L328.54 189.96 L328.20 190.20 L327.87 190.44 L327.55 190.69 L327.23 190.93 L326.92 191.17 L326.62 191.41 L326.32 191.65 L326.03 191.89 L325.74 192.13 L325.46 192.37 L325.19 192.62 L324.92 192.86 L324.65 193.10 L324.40 193.34 L324.14 193.58 L323.90 193.82 L323.65 194.06 L323.42 194.30 L323.18 194.55 L322.96 194.79 L322.74 195.03 L322.52 195.27 L322.31 195.51 L322.10 195.75 L321.90 195.99 L321.70 196.23 L321.50 196.48 L321.31 196.72 L321.13 196.96 L320.95 197.20 L320.77 197.44 L320.60 197.68 L320.43 197.92 L320.27 198.16 L320.11 198.41 L319.95 198.65 L319.80 198.89 L319.65 199.13 L319.50 199.37 L319.36 199.61 L319.22 199.85 L319.09 200.09 L318.95 200.34 L318.83 200.58 L318.70 200.82 L318.58 201.06 L318.46 201.30 L318.34 201.54 L318.23 201.78 L318.12 202.02 L318.01 202.27 L317.91 202.51 L317.81 202.75 L317.71 202.99 L317.61 203.23 L317.52 203.47 L317.42 203.71 L317.33 203.95 L317.25 204.20 L317.16 204.44 L317.08 204.68 L317.00 204.92 L316.92 205.16 L316.85 205.40 L316.77 205.64 L316.70 205.88 L316.63 206.13 L316.57 206.37 L316.50 206.61 L316.44 206.85 L316.38 207.09 L316.32 207.33 L316.26 207.57 L316.20 207.81 L316.14 208.06 L316.09 208.30 L316.04 208.54 L315.99 208.78 L315.94 209.02 L315.89 209.26 L315.85 209.50 L315.80 209.74 L315.76 209.99 L315.72 210.23 L315.68 210.47 L315.64 210.71 L315.60 210.95 L315.56 211.19 L315.52 211.43 L315.49 211.67 L315.46 211.92 L315.42 212.16 L315.39 212.40 L315.36 212.64 L315.33 212.88 L315.30 213.12 L315.27 213.36 L315.25 213.60 L315.22 213.85 L315.19 214.09 L315.17 214.33 L315.15 214.57 L315.12 214.81 L315.10 215.05 L315.08 215.29 L315.06 215.53 L315.04 215.78 L315.02 216.02 L315.00 216.26 L314.98 216.50" stroke="#c8202a" stroke-width="2" fill="none" stroke-dasharray="7 6.86" stroke-dashoffset="8.51"/>
<path d="M314.50 216.5v-2.6M314.50 23.5v2.6M323.52 216.5v-1.6M323.52 23.5v1.6M332.54 216.5v-1.6M332.54 23.5v1.6M341.56 216.5v-1.6M341.56 23.5v1.6M350.58 216.5v-1.6M350.58 23.5v1.6M359.60 216.5v-2.6M359.60 23.5v2.6M368.62 216.5v-1.6M368.62 23.5v1.6M377.64 216.5v-1.6M377.64 23.5v1.6M386.66 216.5v-1.6M386.66 23.5v1.6M395.68 216.5v-1.6M395.68 23.5v1.6M404.70 216.5v-2.6M404.70 23.5v2.6M413.72 216.5v-1.6M413.72 23.5v1.6M422.74 216.5v-1.6M422.74 23.5v1.6M431.76 216.5v-1.6M431.76 23.5v1.6M440.78 216.5v-1.6M440.78 23.5v1.6M449.80 216.5v-2.6M449.80 23.5v2.6M458.82 216.5v-1.6M458.82 23.5v1.6M467.84 216.5v-1.6M467.84 23.5v1.6M476.86 216.5v-1.6M476.86 23.5v1.6M485.88 216.5v-1.6M485.88 23.5v1.6M494.90 216.5v-2.6M494.90 23.5v2.6M503.92 216.5v-1.6M503.92 23.5v1.6M512.94 216.5v-1.6M512.94 23.5v1.6M521.96 216.5v-1.6M521.96 23.5v1.6M530.98 216.5v-1.6M530.98 23.5v1.6M540.00 216.5v-2.6M540.00 23.5v2.6M314.5 216.50h2.6M540.0 216.50h-2.6M314.5 214.09h1.6M540.0 214.09h-1.6M314.5 211.68h1.6M540.0 211.68h-1.6M314.5 209.26h1.6M540.0 209.26h-1.6M314.5 206.85h1.6M540.0 206.85h-1.6M314.5 204.44h1.6M540.0 204.44h-1.6M314.5 202.03h1.6M540.0 202.03h-1.6M314.5 199.61h1.6M540.0 199.61h-1.6M314.5 197.20h2.6M540.0 197.20h-2.6M314.5 194.79h1.6M540.0 194.79h-1.6M314.5 192.38h1.6M540.0 192.38h-1.6M314.5 189.96h1.6M540.0 189.96h-1.6M314.5 187.55h1.6M540.0 187.55h-1.6M314.5 185.14h1.6M540.0 185.14h-1.6M314.5 182.72h1.6M540.0 182.72h-1.6M314.5 180.31h1.6M540.0 180.31h-1.6M314.5 177.90h2.6M540.0 177.90h-2.6M314.5 175.49h1.6M540.0 175.49h-1.6M314.5 173.07h1.6M540.0 173.07h-1.6M314.5 170.66h1.6M540.0 170.66h-1.6M314.5 168.25h1.6M540.0 168.25h-1.6M314.5 165.84h1.6M540.0 165.84h-1.6M314.5 163.43h1.6M540.0 163.43h-1.6M314.5 161.01h1.6M540.0 161.01h-1.6M314.5 158.60h2.6M540.0 158.60h-2.6M314.5 156.19h1.6M540.0 156.19h-1.6M314.5 153.78h1.6M540.0 153.78h-1.6M314.5 151.36h1.6M540.0 151.36h-1.6M314.5 148.95h1.6M540.0 148.95h-1.6M314.5 146.54h1.6M540.0 146.54h-1.6M314.5 144.12h1.6M540.0 144.12h-1.6M314.5 141.71h1.6M540.0 141.71h-1.6M314.5 139.30h2.6M540.0 139.30h-2.6M314.5 136.89h1.6M540.0 136.89h-1.6M314.5 134.47h1.6M540.0 134.47h-1.6M314.5 132.06h1.6M540.0 132.06h-1.6M314.5 129.65h1.6M540.0 129.65h-1.6M314.5 127.24h1.6M540.0 127.24h-1.6M314.5 124.83h1.6M540.0 124.83h-1.6M314.5 122.41h1.6M540.0 122.41h-1.6M314.5 120.00h2.6M540.0 120.00h-2.6M314.5 117.59h1.6M540.0 117.59h-1.6M314.5 115.17h1.6M540.0 115.17h-1.6M314.5 112.76h1.6M540.0 112.76h-1.6M314.5 110.35h1.6M540.0 110.35h-1.6M314.5 107.94h1.6M540.0 107.94h-1.6M314.5 105.53h1.6M540.0 105.53h-1.6M314.5 103.11h1.6M540.0 103.11h-1.6M314.5 100.70h2.6M540.0 100.70h-2.6M314.5 98.29h1.6M540.0 98.29h-1.6M314.5 95.88h1.6M540.0 95.88h-1.6M314.5 93.46h1.6M540.0 93.46h-1.6M314.5 91.05h1.6M540.0 91.05h-1.6M314.5 88.64h1.6M540.0 88.64h-1.6M314.5 86.22h1.6M540.0 86.22h-1.6M314.5 83.81h1.6M540.0 83.81h-1.6M314.5 81.40h2.6M540.0 81.40h-2.6M314.5 78.99h1.6M540.0 78.99h-1.6M314.5 76.58h1.6M540.0 76.58h-1.6M314.5 74.16h1.6M540.0 74.16h-1.6M314.5 71.75h1.6M540.0 71.75h-1.6M314.5 69.34h1.6M540.0 69.34h-1.6M314.5 66.92h1.6M540.0 66.92h-1.6M314.5 64.51h1.6M540.0 64.51h-1.6M314.5 62.10h2.6M540.0 62.10h-2.6M314.5 59.69h1.6M540.0 59.69h-1.6M314.5 57.27h1.6M540.0 57.27h-1.6M314.5 54.86h1.6M540.0 54.86h-1.6M314.5 52.45h1.6M540.0 52.45h-1.6M314.5 50.04h1.6M540.0 50.04h-1.6M314.5 47.62h1.6M540.0 47.62h-1.6M314.5 45.21h1.6M540.0 45.21h-1.6M314.5 42.80h2.6M540.0 42.80h-2.6M314.5 40.39h1.6M540.0 40.39h-1.6M314.5 37.98h1.6M540.0 37.98h-1.6M314.5 35.56h1.6M540.0 35.56h-1.6M314.5 33.15h1.6M540.0 33.15h-1.6M314.5 30.74h1.6M540.0 30.74h-1.6M314.5 28.32h1.6M540.0 28.32h-1.6M314.5 25.91h1.6M540.0 25.91h-1.6M314.5 23.50h2.6M540.0 23.50h-2.6" stroke="#444" stroke-width="0.8" fill="none"/>
<rect x="314.5" y="23.5" width="225.5" height="193.0" fill="none" stroke="#5c5c5c" stroke-width="1"/>
<text transform="matrix(1 0 0 1.06 0 -13.236)" x="311" y="220.60" font-size="12" text-anchor="end" fill="#333" stroke="#333" stroke-width="0.25">70</text>
<text transform="matrix(1 0 0 1.06 0 -12.078)" x="311" y="201.30" font-size="12" text-anchor="end" fill="#333" stroke="#333" stroke-width="0.25">74</text>
<text transform="matrix(1 0 0 1.06 0 -10.920)" x="311" y="182.00" font-size="12" text-anchor="end" fill="#333" stroke="#333" stroke-width="0.25">78</text>
<text transform="matrix(1 0 0 1.06 0 -9.762)" x="311" y="162.70" font-size="12" text-anchor="end" fill="#333" stroke="#333" stroke-width="0.25">82</text>
<text transform="matrix(1 0 0 1.06 0 -8.604)" x="311" y="143.40" font-size="12" text-anchor="end" fill="#333" stroke="#333" stroke-width="0.25">86</text>
<text transform="matrix(1 0 0 1.06 0 -7.446)" x="311" y="124.10" font-size="12" text-anchor="end" fill="#333" stroke="#333" stroke-width="0.25">90</text>
<text transform="matrix(1 0 0 1.06 0 -6.288)" x="311" y="104.80" font-size="12" text-anchor="end" fill="#333" stroke="#333" stroke-width="0.25">94</text>
<text transform="matrix(1 0 0 1.06 0 -5.130)" x="311" y="85.50" font-size="12" text-anchor="end" fill="#333" stroke="#333" stroke-width="0.25">98</text>
<text transform="matrix(1 0 0 1.06 0 -3.972)" x="311" y="66.20" font-size="12" text-anchor="end" fill="#333" stroke="#333" stroke-width="0.25">102</text>
<text transform="matrix(1 0 0 1.06 0 -2.814)" x="311" y="46.90" font-size="12" text-anchor="end" fill="#333" stroke="#333" stroke-width="0.25">106</text>
<text transform="matrix(1 0 0 1.06 0 -1.656)" x="311" y="27.60" font-size="12" text-anchor="end" fill="#333" stroke="#333" stroke-width="0.25">110</text>
<text transform="matrix(1 0 0 1.06 0 -13.986)" x="314.50" y="233.1" font-size="12" text-anchor="middle" fill="#333" stroke="#333" stroke-width="0.25">0</text>
<text transform="matrix(1 0 0 1.06 0 -13.986)" x="359.60" y="233.1" font-size="12" text-anchor="middle" fill="#333" stroke="#333" stroke-width="0.25">0.5</text>
<text transform="matrix(1 0 0 1.06 0 -13.986)" x="404.70" y="233.1" font-size="12" text-anchor="middle" fill="#333" stroke="#333" stroke-width="0.25">1</text>
<text transform="matrix(1 0 0 1.06 0 -13.986)" x="449.80" y="233.1" font-size="12" text-anchor="middle" fill="#333" stroke="#333" stroke-width="0.25">1.5</text>
<text transform="matrix(1 0 0 1.06 0 -13.986)" x="494.90" y="233.1" font-size="12" text-anchor="middle" fill="#333" stroke="#333" stroke-width="0.25">2</text>
<text transform="matrix(1 0 0 1.06 0 -13.986)" x="540.00" y="233.1" font-size="12" text-anchor="middle" fill="#333" stroke="#333" stroke-width="0.25">2.5</text>
<path d="M514.3 244.7L519.9 250.3M519.9 244.7L514.3 250.3" stroke="#3a3a3a" stroke-width="0.85" fill="none"/>
<text transform="matrix(1 0 0 1.06 0 -15.084)" x="522.2" y="251.4" font-size="12" fill="#333" stroke="#333" stroke-width="0.25">10</text>
<text transform="matrix(1 0 0 1.06 0 -14.754)" x="534.5" y="245.9" font-size="9.3" fill="#333" stroke="#333" stroke-width="0.25">5</text>
<text transform="matrix(1 0 0 1.06 0 -14.916)" x="427.2" y="248.6" font-size="13.85" text-anchor="middle" fill="#333" stroke="#333" stroke-width="0.25">Meteor Counts</text>
<text transform="translate(287.1 120) rotate(-90) scale(1 1.06)" font-size="13.85" text-anchor="middle" fill="#333" stroke="#333" stroke-width="0.25">Height (km)</text>
<text transform="matrix(1 0 0 1.06 0 -1.074)" x="312.2" y="17.9" font-size="13.5" font-weight="bold" fill="#111" stroke="#111" stroke-width="0.25">(b)</text>
<text transform="matrix(1 0 0 1.06 0 -1.074)" x="343.2" y="17.9" font-size="13.5" font-weight="bold" fill="#111" stroke="#111" stroke-width="0.25" textLength="159" lengthAdjust="spacingAndGlyphs">Height Profile (Zenith &lt; 60</text>
<circle cx="506.3" cy="6.7" r="2.0" fill="none" stroke="#111" stroke-width="0.75"/>
<text transform="matrix(1 0 0 1.06 0 -1.074)" x="507.4" y="17.9" font-size="13.5" font-weight="bold" fill="#111" stroke="#111" stroke-width="0.25">)</text>
<path d="M475.7 34.5H492.5" stroke="#80c0ff" stroke-width="0.8"/>
<path d="M475.7 46.4H492.5" stroke="#ff8080" stroke-width="0.8"/>
<text transform="matrix(1 0 0 1.06 0 -2.304)" x="493.4" y="38.4" font-size="10.3" fill="#333" stroke="#333" stroke-width="0.25">37.5MHz</text>
<text transform="matrix(1 0 0 1.06 0 -3.000)" x="493.4" y="50" font-size="10.3" fill="#333" stroke="#333" stroke-width="0.25">53.1MHz</text>
<text transform="matrix(1 0 0 1.06 0 -3.876)" x="358.4" y="64.6" font-size="11.7" fill="#1e90ff" stroke="#1e90ff" stroke-width="0.25" textLength="169.5" lengthAdjust="spacingAndGlyphs">The max meteor counts of 37.5 MHz</text>
<text transform="matrix(1 0 0 1.06 0 -4.680)" x="358.4" y="78" font-size="11.7" fill="#1e90ff" stroke="#1e90ff" stroke-width="0.25" textLength="165.7" lengthAdjust="spacingAndGlyphs">is 238,295, at Height1= 88.5918 km</text>
<text transform="matrix(1 0 0 1.06 0 -11.718)" x="358.6" y="195.3" font-size="11.7" fill="#ff0000" stroke="#ff0000" stroke-width="0.25" textLength="167.5" lengthAdjust="spacingAndGlyphs">The max meteor counts of 53.1 MHz</text>
<text transform="matrix(1 0 0 1.06 0 -12.486)" x="358.6" y="208.1" font-size="11.7" fill="#ff0000" stroke="#ff0000" stroke-width="0.25" textLength="164.7" lengthAdjust="spacingAndGlyphs">is 188,294, at Height2= 85.7239 km</text>
</svg></body></html>
